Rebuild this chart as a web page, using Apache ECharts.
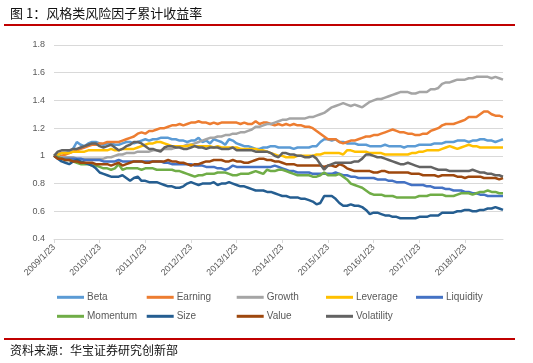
<!DOCTYPE html>
<html><head><meta charset="utf-8">
<script src="https://cdn.jsdelivr.net/npm/echarts@6/dist/echarts.min.js"></script>
<style>html,body{margin:0;padding:0;background:#fff;}#c{width:533px;height:363px;}</style>
</head><body><div id="c"></div>
<script>
// Tick labels on the y axis
const yTicks = [0.4, 0.6, 0.8, 1, 1.2, 1.4, 1.6, 1.8];
// Monthly categories 2009/1/23 .. 2018/11/23
const startYear = 2009, monthCount = 119;
const categories = [];
for (let i = 0; i < monthCount; i++) {
  const y = startYear + Math.floor(i / 12), m = (i % 12) + 1;
  categories.push(y + '/' + m + '/23');
}
const seriesNames = ['Beta','Earning','Growth','Leverage','Liquidity','Momentum','Size','Value','Volatility'];
const beta = [1.00,1.01,1.02,1.02,1.03,1.05,1.10,1.08,1.07,1.09,1.10,1.10,1.09,1.08,1.09,1.09,1.08,1.08,1.09,1.10,1.10,1.09,1.10,1.11,1.12,1.11,1.12,1.12,1.13,1.13,1.13,1.12,1.12,1.11,1.11,1.10,1.11,1.11,1.13,1.10,1.11,1.09,1.12,1.11,1.10,1.08,1.12,1.11,1.09,1.08,1.07,1.07,1.06,1.05,1.05,1.06,1.06,1.07,1.07,1.06,1.06,1.06,1.06,1.05,1.06,1.06,1.06,1.06,1.07,1.07,1.10,1.12,1.12,1.11,1.12,1.10,1.10,1.09,1.09,1.09,1.08,1.08,1.08,1.07,1.07,1.07,1.07,1.08,1.07,1.07,1.07,1.07,1.06,1.07,1.07,1.07,1.08,1.08,1.08,1.08,1.09,1.09,1.09,1.10,1.10,1.10,1.11,1.11,1.11,1.10,1.11,1.11,1.12,1.12,1.11,1.11,1.10,1.11,1.12];
const earning = [1.00,0.99,1.00,1.01,1.02,1.03,1.04,1.05,1.06,1.07,1.08,1.08,1.09,1.09,1.10,1.10,1.10,1.10,1.11,1.12,1.13,1.14,1.16,1.17,1.16,1.18,1.18,1.19,1.20,1.20,1.21,1.22,1.22,1.23,1.22,1.23,1.24,1.24,1.25,1.24,1.24,1.23,1.24,1.23,1.24,1.24,1.24,1.24,1.24,1.23,1.24,1.23,1.23,1.25,1.23,1.24,1.24,1.23,1.22,1.23,1.22,1.23,1.22,1.23,1.22,1.22,1.21,1.21,1.20,1.18,1.16,1.14,1.12,1.12,1.12,1.10,1.09,1.10,1.11,1.11,1.12,1.13,1.14,1.14,1.15,1.15,1.16,1.17,1.18,1.19,1.18,1.17,1.17,1.16,1.16,1.15,1.15,1.16,1.16,1.18,1.19,1.20,1.22,1.23,1.23,1.23,1.24,1.25,1.26,1.28,1.28,1.28,1.30,1.32,1.32,1.30,1.29,1.29,1.28];
const growth = [1.00,0.99,0.99,0.99,0.99,0.99,0.98,0.98,0.98,0.98,0.98,0.98,0.98,0.98,0.99,0.99,1.00,1.01,1.01,1.02,1.02,1.02,1.03,1.03,1.03,1.03,1.04,1.04,1.04,1.05,1.05,1.05,1.06,1.07,1.07,1.08,1.08,1.09,1.10,1.11,1.12,1.13,1.13,1.14,1.14,1.15,1.15,1.16,1.16,1.17,1.17,1.18,1.19,1.21,1.21,1.22,1.23,1.23,1.24,1.25,1.26,1.26,1.27,1.27,1.27,1.27,1.27,1.28,1.28,1.29,1.30,1.31,1.33,1.35,1.36,1.37,1.38,1.37,1.36,1.37,1.36,1.35,1.37,1.39,1.40,1.41,1.41,1.42,1.43,1.44,1.45,1.46,1.46,1.46,1.45,1.45,1.46,1.46,1.46,1.48,1.48,1.49,1.52,1.53,1.53,1.54,1.55,1.55,1.55,1.56,1.56,1.57,1.57,1.57,1.57,1.56,1.57,1.56,1.55];
const leverage = [1.00,1.01,1.02,1.02,1.02,1.03,1.03,1.03,1.03,1.04,1.04,1.04,1.04,1.04,1.04,1.05,1.04,1.04,1.05,1.05,1.05,1.05,1.06,1.07,1.08,1.09,1.09,1.10,1.10,1.09,1.08,1.07,1.07,1.07,1.07,1.07,1.08,1.07,1.07,1.07,1.07,1.07,1.06,1.07,1.06,1.06,1.06,1.06,1.06,1.05,1.05,1.05,1.05,1.05,1.04,1.04,1.03,1.02,1.01,1.00,1.00,0.99,0.99,0.99,1.00,1.00,1.00,1.00,1.00,1.01,1.01,1.02,1.02,1.02,1.02,1.02,1.01,1.04,1.04,1.03,1.03,1.03,1.03,1.02,1.02,1.02,1.02,1.01,1.01,1.01,1.01,1.01,1.01,1.01,1.02,1.02,1.03,1.03,1.04,1.04,1.04,1.04,1.05,1.06,1.07,1.06,1.05,1.06,1.07,1.08,1.07,1.07,1.06,1.06,1.06,1.06,1.06,1.06,1.06];
const liquidity = [1.00,0.99,0.98,0.98,0.98,0.98,0.98,0.98,0.97,0.97,0.97,0.97,0.97,0.96,0.96,0.96,0.96,0.97,0.96,0.96,0.96,0.96,0.96,0.96,0.96,0.96,0.96,0.96,0.96,0.95,0.95,0.94,0.94,0.94,0.94,0.94,0.94,0.93,0.93,0.93,0.92,0.92,0.92,0.91,0.91,0.90,0.91,0.93,0.92,0.92,0.92,0.92,0.92,0.92,0.92,0.92,0.92,0.92,0.93,0.92,0.91,0.90,0.89,0.89,0.88,0.88,0.88,0.88,0.87,0.87,0.87,0.87,0.87,0.87,0.88,0.87,0.86,0.86,0.85,0.85,0.84,0.84,0.84,0.84,0.84,0.83,0.83,0.83,0.82,0.82,0.81,0.81,0.81,0.80,0.79,0.79,0.79,0.79,0.78,0.78,0.77,0.77,0.77,0.76,0.76,0.75,0.75,0.75,0.74,0.74,0.73,0.73,0.72,0.72,0.71,0.71,0.71,0.71,0.71];
const momentum = [1.00,0.99,0.98,0.97,0.97,0.96,0.95,0.94,0.94,0.94,0.93,0.93,0.92,0.91,0.91,0.90,0.91,0.94,0.90,0.91,0.91,0.91,0.91,0.90,0.91,0.91,0.91,0.90,0.90,0.90,0.90,0.90,0.89,0.89,0.88,0.87,0.86,0.85,0.86,0.86,0.87,0.87,0.87,0.88,0.88,0.88,0.87,0.86,0.86,0.87,0.87,0.87,0.88,0.89,0.88,0.87,0.90,0.89,0.89,0.90,0.90,0.89,0.88,0.87,0.86,0.86,0.86,0.86,0.85,0.85,0.86,0.88,0.86,0.86,0.86,0.87,0.85,0.83,0.80,0.79,0.78,0.77,0.75,0.73,0.72,0.72,0.72,0.71,0.71,0.71,0.70,0.70,0.70,0.70,0.70,0.70,0.71,0.71,0.71,0.72,0.72,0.72,0.72,0.71,0.71,0.71,0.72,0.73,0.73,0.73,0.72,0.73,0.74,0.74,0.75,0.74,0.74,0.73,0.73];
const size = [1.00,0.98,0.96,0.95,0.94,0.96,0.97,0.96,0.95,0.94,0.93,0.91,0.88,0.87,0.86,0.85,0.85,0.85,0.86,0.84,0.82,0.84,0.85,0.82,0.82,0.81,0.81,0.81,0.80,0.79,0.78,0.78,0.77,0.77,0.78,0.80,0.81,0.80,0.79,0.80,0.80,0.80,0.81,0.79,0.80,0.80,0.81,0.80,0.79,0.78,0.78,0.77,0.76,0.75,0.75,0.75,0.74,0.74,0.73,0.72,0.71,0.71,0.70,0.70,0.70,0.69,0.69,0.68,0.67,0.65,0.66,0.71,0.71,0.71,0.69,0.66,0.64,0.64,0.65,0.64,0.64,0.63,0.61,0.58,0.59,0.59,0.58,0.57,0.57,0.56,0.56,0.55,0.55,0.55,0.55,0.55,0.56,0.56,0.56,0.57,0.57,0.57,0.59,0.59,0.59,0.59,0.60,0.60,0.61,0.61,0.60,0.60,0.61,0.61,0.62,0.62,0.63,0.62,0.61];
const value = [1.00,0.98,0.98,0.97,0.97,0.96,0.96,0.95,0.95,0.95,0.95,0.94,0.94,0.94,0.94,0.93,0.94,0.95,0.93,0.94,0.95,0.96,0.96,0.96,0.95,0.95,0.96,0.96,0.96,0.96,0.97,0.96,0.96,0.95,0.95,0.94,0.93,0.94,0.94,0.95,0.96,0.96,0.97,0.97,0.97,0.96,0.96,0.97,0.96,0.96,0.95,0.95,0.96,0.97,0.98,0.98,0.97,0.97,0.96,0.96,0.95,0.94,0.94,0.94,0.93,0.93,0.93,0.93,0.93,0.93,0.93,0.92,0.93,0.93,0.92,0.94,0.93,0.91,0.90,0.89,0.89,0.89,0.89,0.89,0.88,0.88,0.89,0.89,0.88,0.88,0.88,0.88,0.88,0.88,0.87,0.87,0.87,0.86,0.86,0.86,0.86,0.85,0.86,0.86,0.86,0.86,0.85,0.85,0.84,0.85,0.85,0.85,0.85,0.84,0.84,0.84,0.84,0.83,0.84];
const volatility = [1.00,1.03,1.04,1.04,1.04,1.05,1.05,1.06,1.07,1.08,1.09,1.09,1.07,1.06,1.07,1.08,1.06,1.04,1.05,1.07,1.08,1.10,1.10,1.09,1.07,1.05,1.05,1.04,1.03,1.06,1.07,1.07,1.06,1.06,1.05,1.05,1.06,1.07,1.06,1.06,1.05,1.06,1.06,1.06,1.05,1.05,1.05,1.06,1.04,1.04,1.04,1.04,1.04,1.03,1.03,1.03,1.03,1.02,1.00,0.99,1.02,1.02,1.01,1.01,1.00,1.00,0.99,0.99,1.00,0.98,0.94,0.90,0.93,0.94,0.95,0.95,0.95,0.95,0.95,0.96,0.96,0.98,1.01,1.01,1.00,0.99,0.99,0.98,0.97,0.96,0.95,0.94,0.94,0.95,0.94,0.93,0.92,0.92,0.92,0.92,0.91,0.90,0.90,0.90,0.89,0.89,0.89,0.89,0.89,0.89,0.90,0.89,0.88,0.88,0.87,0.87,0.86,0.86,0.85];
const seriesData = [beta, earning, growth, leverage, liquidity, momentum, size, value, volatility];
const colors = ['#5B9BD5','#ED7D31','#A5A5A5','#FFC000','#4472C4','#70AD47','#255E91','#9E480E','#636363'];

const legendX = [57, 146.7, 236.7, 326, 416];
const legendY = [298.3, 317.3];
const legends = seriesNames.map((n, i) => ({
  data: [n], left: legendX[i % 5], top: legendY[Math.floor(i / 5)] - 6,
  padding: 0, itemWidth: 27, itemHeight: 3, itemGap: 0, icon: 'rect',
  textStyle: { color: '#595959', fontSize: 10, fontFamily: 'Liberation Sans', padding: [0, 0, 0, -2] }
}));

const chart = echarts.init(document.getElementById('c'));
chart.setOption({
  animation: false,
  color: colors,
  textStyle: { fontFamily: 'Liberation Sans' },
  grid: { left: 54, right: 30, top: 45, bottom: 124, containLabel: false },
  legend: legends,
  xAxis: {
    type: 'category', data: categories, boundaryGap: false,
    axisLine: { lineStyle: { color: '#D9D9D9', width: 1 } },
    axisTick: { interval: 11, length: 4, lineStyle: { color: '#D9D9D9' } },
    axisLabel: { interval: 11, rotate: 45, fontSize: 9, color: '#595959', margin: 7 },
    splitLine: { show: false }
  },
  yAxis: {
    type: 'value', min: yTicks[0], max: yTicks[yTicks.length - 1], interval: 0.2,
    axisLine: { show: false }, axisTick: { show: false },
    axisLabel: { fontSize: 9, color: '#595959', margin: 9 },
    splitLine: { lineStyle: { color: '#D9D9D9', width: 1 } }
  },
  series: seriesNames.map((n, i) => ({
    name: n, type: 'line', data: seriesData[i], symbol: 'none',
    lineStyle: { width: 2.5, color: colors[i] }, itemStyle: { color: colors[i] }
  })),
  graphic: [
    { type: 'text', left: 10, top: 7, style: { text: '图 1：风格类风险因子累计收益率', fontSize: 13, fontFamily: 'Noto Sans CJK SC', fill: '#111' } },
    { type: 'rect', shape: { x: 4, y: 24, width: 511, height: 2 }, style: { fill: '#C00000' } },
    { type: 'rect', shape: { x: 4, y: 338, width: 511, height: 2 }, style: { fill: '#C00000' } },
    { type: 'text', left: 10, top: 344, style: { text: '资料来源：华宝证券研究创新部', fontSize: 12, fontFamily: 'Noto Sans CJK SC', fill: '#111' } }
  ]
});
</script></body></html>
